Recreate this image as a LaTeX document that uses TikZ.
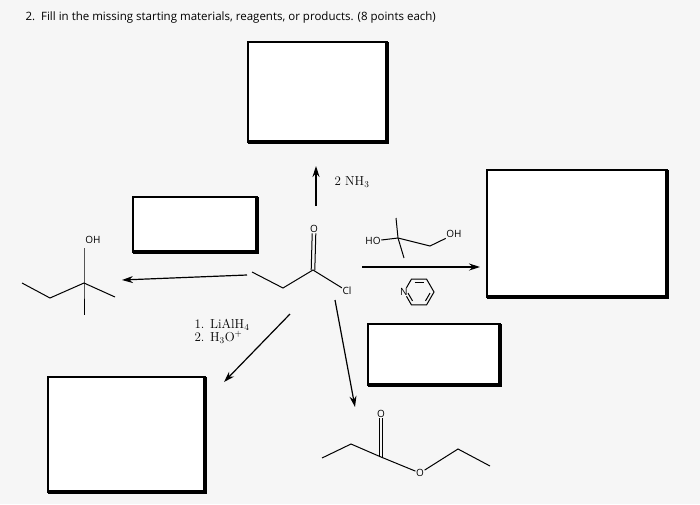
\documentclass[tikz,border=0pt]{standalone}
\usepackage{fontspec}
\setsansfont{Open Sans}
\usetikzlibrary{arrows.meta,calc}
\begin{document}
\begin{tikzpicture}[x=1pt,y=-1pt,
  answer/.style={draw=black,line width=1.4pt},
  bond/.style={line width=1pt},
  rxn/.style={line width=1.2pt,-{Stealth[length=11pt,width=7pt]}},
  atom/.style={font=\sffamily\fontsize{10}{12}\selectfont,inner sep=0.5pt},
  reag/.style={font=\fontsize{13}{14}\selectfont,align=left}]
\fill[gray!7] (0,0) rectangle (700,504);
\useasboundingbox (0,0) rectangle (700,504);
\node[anchor=west,font=\sffamily\fontsize{11.5}{13}\selectfont] (title) at (22,18) {2.\ \ Fill in the missing starting materials, reagents, or products. (8 points each)};
% boxes
\foreach \n/\a/\b/\c/\d in {btop/248/42/387/142, bleft/133/197/257/252, bright/487/170/667/297, bmid/368/324/500/385, bbot/48/377/205/492}{
  \fill[white] (\a,\b) rectangle (\c,\d);
  \draw[answer] (\a,\b) rectangle (\c,\d);
  \draw[line width=3.5pt] (\a,\d) -- (\c,\d) -- (\c,\b);
  \coordinate (\n) at ({(\a+\c)/2},{(\b+\d)/2});
}
% central acid chloride
\coordinate (c1) at (252,272); \coordinate (c2) at (283,288); \coordinate (cc) at (313,270);
\node[atom] (o1) at (314,229) {O};
\node[atom] (cl) at (347,291) {Cl};
\draw[bond] (c1) -- (c2) -- (cc) -- (cl);
\draw[bond] ([xshift=-1.8pt]cc) -- ([xshift=-1.8pt]o1.south);
\draw[bond] ([xshift=1.8pt]cc) -- ([xshift=1.8pt]o1.south);
% left alcohol
\node[atom] (oh) at (93,240) {OH};
\coordinate (lc) at (84,283);
\coordinate (l1) at (22,283); \coordinate (l2) at (50,298);
\coordinate (l3) at (115,297); \coordinate (l4) at (84,315);
\draw[bond] (84,248) -- (lc) -- (l4);
\draw[bond] (l1) -- (l2) -- (lc) -- (l3);
% diol reagent
\node[atom] (ho) at (373,241) {HO};
\coordinate (dc) at (398,238);
\coordinate (dm1) at (396,218); \coordinate (dm2) at (404,258);
\coordinate (dch) at (430,246);
\node[atom] (oh2) at (454,234) {OH};
\draw[bond] (ho) -- (dc) -- (dch) -- (oh2.south west);
\draw[bond] (dm1) -- (dc) -- (dm2);
% pyridine
\node[atom] (n) at (404,292) {N};
\foreach \i in {0,...,5}{\coordinate (p\i) at ({419+15*cos(180+60*\i)},{292+15*sin(180+60*\i)});}
\draw[bond] (n) -- (p1) -- (p2) -- (p3) -- (p4) -- (p5) -- (n);
\draw[bond] ($(p1)!0.2!(p2)+(0,3)$) -- ($(p1)!0.8!(p2)+(0,3)$);
\draw[bond] ($(p3)!0.2!(p4)+(-2.5,-1.5)$) -- ($(p3)!0.8!(p4)+(-2.5,-1.5)$);
\draw[bond] ($(p5)!0.2!(p0)+(2.5,-1.5)$) -- ($(p5)!0.8!(p0)+(2.5,-1.5)$);
% ester
\coordinate (e1) at (322,458); \coordinate (e2) at (351,444); \coordinate (ec) at (381,457);
\node[atom] (eo1) at (381,414) {O};
\node[atom] (eo2) at (420,473) {O};
\coordinate (e3) at (458,449); \coordinate (e4) at (490,466);
\draw[bond] (e1) -- (e2) -- (ec) -- (eo2) -- (e3) -- (e4);
\draw[bond] ([xshift=-1.8pt]ec) -- ([xshift=-1.8pt]eo1.south);
\draw[bond] ([xshift=1.8pt]ec) -- ([xshift=1.8pt]eo1.south);
% arrows
\coordinate (a1s) at (316,206); \coordinate (a1e) at (316,166);
\draw[rxn] (a1s) -- (a1e);
\node[reag] (r1) at (352,182) {2 NH$_3$};
\coordinate (a2s) at (247,275); \coordinate (a2e) at (122,280);
\draw[rxn] (a2s) -- (a2e);
\coordinate (a3s) at (362,267); \coordinate (a3e) at (480,267);
\draw[rxn] (a3s) -- (a3e);
\coordinate (a4s) at (290,314); \coordinate (a4e) at (224,382);
\draw[rxn] (a4s) -- (a4e);
\node[reag] (r4) at (222,331) {1. LiAlH$_4$\\[-1pt]2. H$_3$O$^+$};
\coordinate (a5s) at (335,300); \coordinate (a5e) at (355,407);
\draw[rxn] (a5s) -- (a5e);
\end{tikzpicture}
\end{document}
